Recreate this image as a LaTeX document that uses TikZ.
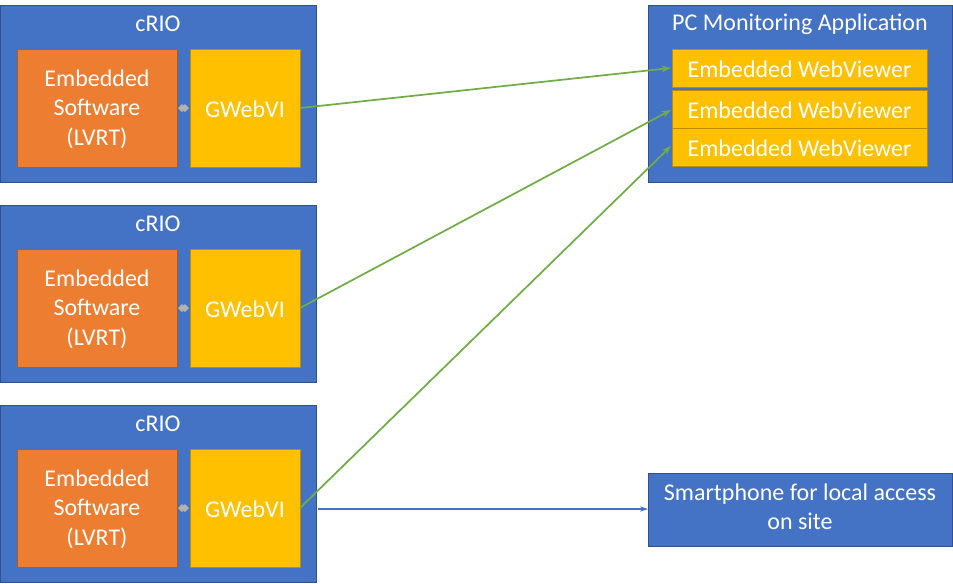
\documentclass[tikz,border=0pt]{standalone}
\usepackage{fontspec}
\setmainfont{Carlito}
\usetikzlibrary{arrows.meta}
\definecolor{bl}{HTML}{4472C4}
\definecolor{bld}{HTML}{2F528F}
\definecolor{orn}{HTML}{ED7D31}
\definecolor{ornd}{HTML}{AE5A21}
\definecolor{yel}{HTML}{FFC000}
\definecolor{yeld}{HTML}{BC8C00}
\definecolor{grn}{HTML}{70AD47}
\begin{document}
\begin{tikzpicture}[x=0.75pt,y=-0.75pt,
  box/.style={draw=bld,fill=bl},
  ob/.style={draw=ornd,fill=orn},
  yb/.style={draw=yeld,fill=yel},
  lbl/.style={text=white,font=\fontsize{18}{22}\selectfont,align=center},
  ga/.style={grn,line width=1.3pt,-{Stealth[length=7pt,width=5pt]}},
  gr/.style={gray!60,line width=1.2pt,{Diamond[length=6pt,width=6pt]}-{Diamond[length=6pt,width=6pt]}}]
\useasboundingbox (0,0) rectangle (953,583);
\foreach \i/\y in {1/5,2/205,3/405}{
  \draw[box] (0,\y) rectangle (316,\y+177);
  \node[lbl] (t\i) at (158,\y+19) {cRIO};
  \draw[ob] (17,\y+44) rectangle (177,\y+162);
  \node[lbl] (o\i) at (97,\y+104) {Embedded\\Software\\(LVRT)};
  \draw[yb] (190,\y+44) rectangle (300,\y+162);
  \node[lbl] (g\i) at (245,\y+104) {GWebVI};
  \coordinate (gr\i) at (300,\y+103);
  \coordinate (ol\i) at (178,\y+103);
  \coordinate (yl\i) at (189,\y+103);
  \draw[gr] (ol\i) -- (yl\i);
}
\draw[box] (648,5) rectangle (952,182);
\node[lbl] (pc) at (800,24) {PC Monitoring Application};
\foreach \i/\a/\b in {1/49/87,2/90/128,3/128/166}{
  \draw[yb] (672,\a) rectangle (927,\b);
  \node[lbl] (w\i) at (799.5,{(\a+\b)/2+1}) {Embedded WebViewer};
  \coordinate (wl\i) at (671,{(\a+\b)/2});
}
\coordinate (wt2) at (671,110);
\coordinate (wt3) at (671,146);
\draw[box] (648,473) rectangle (952,546);
\node[lbl] (sp) at (800,507) {Smartphone for local access\\on site};
\draw[ga] (gr1) -- (wl1);
\draw[ga] (gr2) -- (wt2);
\draw[ga] (gr3) -- (wt3);
\coordinate (bs) at (318,509);
\coordinate (be) at (648,509);
\draw[bl,line width=0.8pt,-{Stealth[length=6pt,width=4pt]}] (bs) -- (be);
\end{tikzpicture}
\end{document}
